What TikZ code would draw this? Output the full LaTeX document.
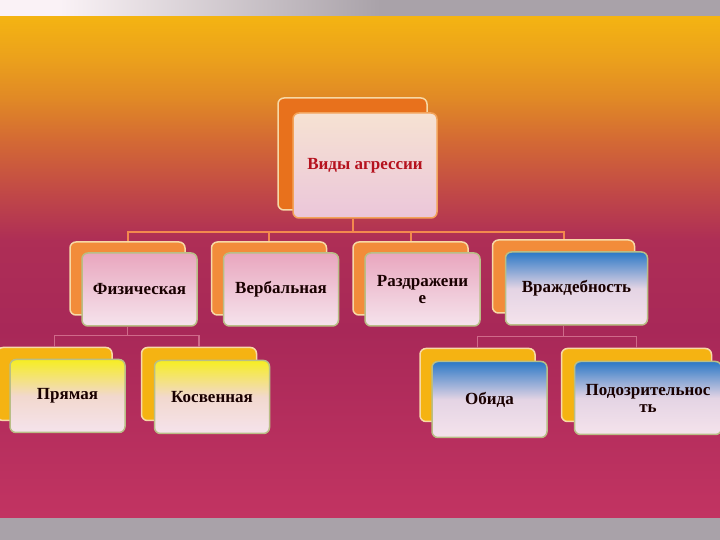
\documentclass[tikz,border=0pt]{standalone}
\usepackage{fontspec}
\setmainfont{Liberation Serif}
\usepackage{tikz}
\usetikzlibrary{positioning,calc}

\definecolor{bgA}{HTML}{F4B412}
\definecolor{bgB}{HTML}{EBA01C}
\definecolor{bgC}{HTML}{E08826}
\definecolor{bgD}{HTML}{D46A34}
\definecolor{bgE}{HTML}{C24A46}
\definecolor{bgF}{HTML}{AE2E56}
\definecolor{bgG}{HTML}{A82858}
\definecolor{bgH}{HTML}{C23462}
\definecolor{barW}{HTML}{FAF2F6}
\definecolor{barG}{HTML}{A9A2A9}
\definecolor{orangeD}{HTML}{E8711C}
\definecolor{orangeM}{HTML}{F28C3A}
\definecolor{gold}{HTML}{F5B312}
\definecolor{cream}{HTML}{F7D9A6}
\definecolor{khaki}{HTML}{B9BE86}
\definecolor{pinkT}{HTML}{E9A6BE}
\definecolor{pinkM}{HTML}{EFC6D6}
\definecolor{pinkB}{HTML}{F5E3EC}
\definecolor{blueT}{HTML}{2B78C6}
\definecolor{blueM}{HTML}{E4D4E4}
\definecolor{yellT}{HTML}{F6EE22}
\definecolor{yellM}{HTML}{F2D8CE}
\definecolor{peach}{HTML}{F6E2D2}
\definecolor{lilac}{HTML}{EBC6DA}
\definecolor{redtxt}{HTML}{B5121E}
\definecolor{trunkc}{HTML}{F3894E}
\definecolor{twigc}{HTML}{CF6A8A}

\tikzset{
  backcard/.style={draw=cream, line width=1.5pt, rounded corners=6pt,
    minimum width=115pt, minimum height=73pt, inner sep=0pt},
  frontcard/.style={draw=khaki, line width=1.5pt, rounded corners=6pt,
    minimum width=115pt, minimum height=73pt, inner sep=2pt, align=center,
    font=\fontsize{17}{17}\selectfont\bfseries, text=black!90!red},
  pinkcard/.style={frontcard, top color=pinkT, bottom color=pinkB, middle color=pinkM},
  bluecard/.style={frontcard, top color=blueT, bottom color=pinkB, middle color=blueM},
  yellowcard/.style={frontcard, top color=yellT, bottom color=pinkB, middle color=yellM},
  trunk/.style={draw=trunkc, line width=2pt},
  twig/.style={draw=twigc, line width=1.2pt}
}

\begin{document}
\begin{tikzpicture}[x=1pt,y=1pt]
  \useasboundingbox (0,0) rectangle (720,540);

  % background
  \fill[barG] (0,0) rectangle (720,22);
  \shade[bottom color=bgH, top color=bgG] (0,22) rectangle (720,210.5);
  \shade[bottom color=bgG, top color=bgF] (0,210) rectangle (720,300.5);
  \shade[bottom color=bgF, top color=bgE] (0,300) rectangle (720,350.5);
  \shade[bottom color=bgE, top color=bgD] (0,350) rectangle (720,400.5);
  \shade[bottom color=bgD, top color=bgC] (0,400) rectangle (720,440.5);
  \shade[bottom color=bgC, top color=bgB] (0,440) rectangle (720,480.5);
  \shade[bottom color=bgB, top color=bgA] (0,480) rectangle (720,524);
  \fill[barW] (0,524) rectangle (60.5,540);
  \shade[left color=barW, right color=barG] (60,524) rectangle (380.5,540);
  \fill[barG] (380,524) rectangle (720,540);

  \node(s0)[backcard, fill=orangeD, minimum width=149pt,
            minimum height=112pt] at (352.5,386) {};
  \node(u0)[frontcard, top color=peach, bottom color=lilac, draw=orangeM!70!cream,
            minimum width=144pt, minimum height=105pt, text=redtxt,
            anchor=north west] at ($(s0.north west)+(15,-15)$)
  {Виды агрессии};

  \node(s1)[backcard, fill=orangeM] at (127.5,261.5) {};
  \node(s2)[backcard, fill=orangeM, right=25pt of s1] {};
  \node(s3)[backcard, fill=orangeM, right=25pt of s2] {};
  \node(s4)[backcard, fill=orangeM, right=23pt of s3,
            minimum width=142pt, yshift=2pt] {};

  \node(u1)[pinkcard, anchor=north west] at ($(s1.north west)+(12,-11)$)
  {Физическая};
  \node(u2)[pinkcard, anchor=north west] at ($(s2.north west)+(12,-11)$)
  {Вербальная};
  \node(u3)[pinkcard, anchor=north west] at ($(s3.north west)+(12,-11)$)
  {Раздражени\\е};
  \node(u4)[bluecard, minimum width=142pt, anchor=north west]
    at ($(s4.north west)+(13,-12)$)
  {Враждебность};

  \node(s5)[backcard, fill=gold, below=31pt of s1, xshift=-73pt] {};
  \node(s6)[backcard, fill=gold, right=28pt of s5] {};
  \node(s7)[backcard, fill=gold, below=34pt of s4, xshift=-86pt] {};
  \node(s8)[backcard, fill=gold, right=25pt of s7, minimum width=150pt] {};

  \node(u5)[yellowcard, anchor=north west] at ($(s5.north west)+(13,-12)$)
  {Прямая};
  \node(u6)[yellowcard, anchor=north west] at ($(s6.north west)+(13,-13)$)
  {Косвенная};
  \node(u7)[bluecard, minimum height=76pt, anchor=north west]
    at ($(s7.north west)+(12,-13)$)
  {Обида};
  \node(u8)[bluecard, minimum width=147pt, anchor=north west]
    at ($(s8.north west)+(13,-13)$)
  {Подозрительнос\\ть};

  \draw[trunk] (s0.south |- u0.south) -- ++(0,-13) coordinate (j0);
  \draw[trunk] (j0) -| (s1.north);
  \draw[trunk] (j0) -| (s2.north);
  \draw[trunk] (j0) -| (s3.north);
  \draw[trunk] (j0) -| (s4.north);

  \draw[twig] (s1.south |- u1.south) -- ++(0,-9) coordinate (j1);
  \draw[twig] (j1) -| (s5.north);
  \draw[twig] (j1) -| (s6.north);
  \draw[twig] (s4.south |- u4.south) -- ++(0,-11) coordinate (j4);
  \draw[twig] (j4) -| (s7.north);
  \draw[twig] (j4) -| (s8.north);
\end{tikzpicture}
\end{document}
